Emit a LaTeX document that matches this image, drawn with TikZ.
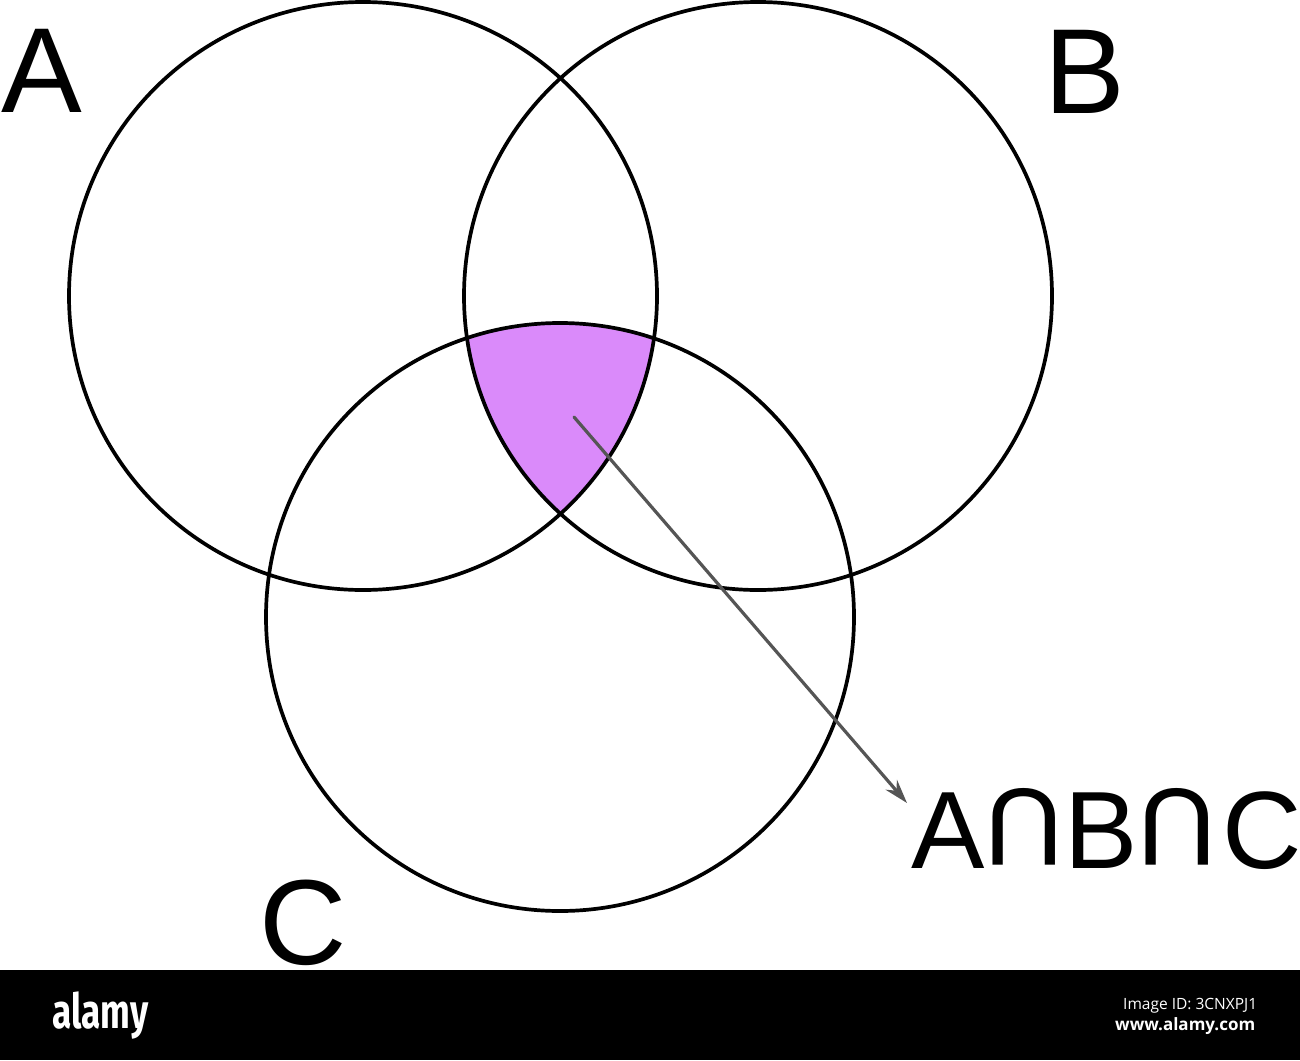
\documentclass[tikz,border=0pt]{standalone}
\usepackage{fontspec}
\setmainfont{Liberation Sans}
\newfontfamily\barfont{Fira Sans}
\newfontfamily\idfont{Open Sans}
\usetikzlibrary{arrows.meta}
\definecolor{setfill}{RGB}{218,138,250}
\definecolor{arrowgray}{RGB}{85,85,85}
\newcommand{\capsym}{\raisebox{0.716em}{\scalebox{1}[-1]{U}}}
\tikzset{
  setcircle/.style={draw=black, line width=3.7pt},
  biglabel/.style={inner sep=0pt, anchor=base, font=\fontsize{121}{121}\selectfont},
  pointer/.style={draw=arrowgray, line width=3.2pt, line cap=round, -{Stealth[length=24pt,width=15pt]}},
  bartext/.style={inner sep=0pt, anchor=base west, text=white}
}
\begin{document}
\begin{tikzpicture}[x=1pt,y=-1pt]
\useasboundingbox (0,0) rectangle (1300,1060);
% shaded triple intersection
\begin{scope}
  \clip (363,296) circle[radius=294];
  \clip (758,296) circle[radius=294];
  \fill[setfill] (560,617) circle[radius=294];
\end{scope}
% circles
\node[setcircle, circle, minimum size=588pt, inner sep=0pt] (A) at (363,296) {};
\node[setcircle, circle, minimum size=588pt, inner sep=0pt] (B) at (758,296) {};
\node[setcircle, circle, minimum size=588pt, inner sep=0pt] (C) at (560,617) {};
% labels
\node[biglabel] (la) at (42,112) {A};
\node[biglabel] (lb) at (1085,113) {B};
\node[biglabel] (lc) at (303,964) {C};
\node[inner sep=0pt, anchor=base west, font=\fontsize{110}{110}\selectfont] (abc) at (911,868) {A\capsym B\capsym\kern 6pt C};
% pointer
\coordinate (ps) at (574,417);
\coordinate (pe) at (907,803);
\draw[pointer] (ps) -- (pe);
% bottom bar
\fill[black] (0,970) rectangle (1300,1060);
\node[bartext] (logo) at (52,1028) {\scalebox{0.8}[1.1]{\barfont\bfseries\fontsize{44}{44}\selectfont alamy}};
\node[bartext] (imgid) at (1123,1009) {\idfont\fontsize{15.5}{15.5}\selectfont Image ID: 3CNXPJ1};
\node[bartext] (url) at (1115,1030) {\idfont\bfseries\fontsize{17}{17}\selectfont www.alamy.com};
\end{tikzpicture}
\end{document}
